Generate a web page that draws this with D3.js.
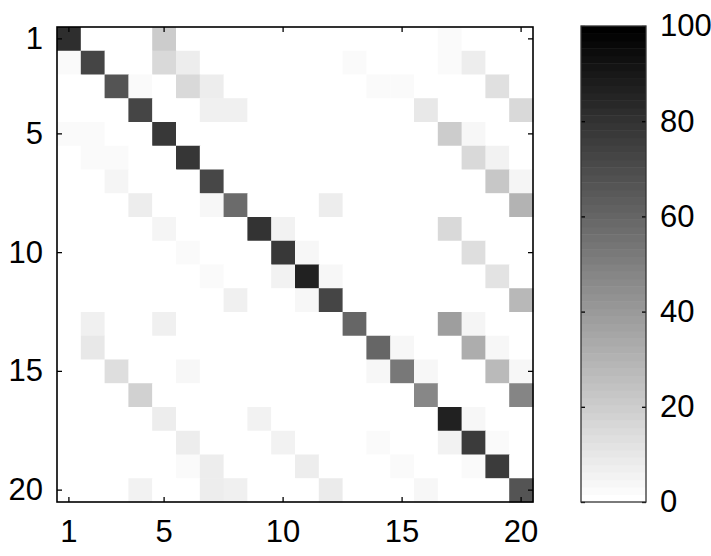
<!DOCTYPE html>
<html>
<head>
<meta charset="utf-8">
<script src="https://cdn.jsdelivr.net/npm/d3@7"></script>
<style>
  body { margin: 0; background: #fff; }
  text { font-family: "Liberation Sans", Arial, sans-serif; }
</style>
</head>
<body>
<svg id="chart" width="711" height="556"></svg>
<script>
// class labels 1..20, rows = true class, columns = predicted class
const classes = d3.range(1, 21);
const axisTicks = [1, 5, 10, 15, 20];
const colorTicks = [0, 20, 40, 60, 80, 100];

// confusion matrix in percent
const confusion = [
  [82, 0, 0, 0,20, 0, 0, 0, 0, 0, 0, 0, 0, 0, 0, 0, 2, 0, 0, 0],
  [ 2,73, 0, 0,15, 7, 0, 0, 0, 0, 0, 0, 2, 0, 0, 0, 2, 7, 0, 0],
  [ 0, 0,67, 2, 0,15, 7, 0, 0, 0, 0, 0, 0, 2, 2, 0, 0, 0,12, 0],
  [ 0, 0, 0,73, 0, 0, 6, 6, 0, 0, 0, 0, 0, 0, 0, 9, 0, 0, 0,15],
  [ 2, 2, 0, 0,78, 0, 0, 0, 0, 0, 0, 0, 0, 0, 0, 0,20, 3, 0, 0],
  [ 0, 2, 2, 0, 0,79, 0, 0, 0, 0, 0, 0, 0, 0, 0, 0, 0,15, 5, 0],
  [ 0, 0, 4, 0, 0, 0,72, 0, 0, 0, 0, 0, 0, 0, 0, 0, 0, 0,22, 4],
  [ 0, 0, 0, 7, 0, 0, 3,58, 0, 0, 0, 7, 0, 0, 0, 0, 0, 0, 0,30],
  [ 0, 0, 0, 0, 4, 0, 0, 0,80, 5, 0, 0, 0, 0, 0, 0,15, 0, 0, 0],
  [ 0, 0, 0, 0, 0, 2, 0, 0, 0,78, 3, 0, 0, 0, 0, 0, 0,13, 0, 0],
  [ 0, 0, 0, 0, 0, 0, 2, 0, 0, 5,87, 3, 0, 0, 0, 0, 0, 0,11, 0],
  [ 0, 0, 0, 0, 0, 0, 0, 6, 0, 0, 3,73, 0, 0, 0, 0, 0, 0, 0,28],
  [ 0, 6, 0, 0, 6, 0, 0, 0, 0, 0, 0, 0,60, 0, 0, 0,38, 4, 0, 0],
  [ 0, 9, 0, 0, 0, 0, 0, 0, 0, 0, 0, 0, 0,60, 3, 0, 0,32, 3, 0],
  [ 0, 0,13, 0, 0, 3, 0, 0, 0, 0, 0, 0, 0, 3,53, 3, 0, 0,27, 3],
  [ 0, 0, 0,18, 0, 0, 0, 0, 0, 0, 0, 0, 0, 0, 0,47, 0, 0, 0,48],
  [ 0, 0, 0, 0, 7, 0, 0, 0, 5, 0, 0, 0, 0, 0, 0, 0,87, 3, 0, 0],
  [ 0, 0, 0, 0, 0, 7, 0, 0, 0, 5, 0, 0, 0, 2, 0, 0, 5,77, 2, 0],
  [ 0, 0, 0, 0, 0, 2, 7, 0, 0, 0, 7, 0, 0, 0, 2, 0, 0, 2,77, 0],
  [ 0, 0, 0, 5, 0, 0, 7, 6, 0, 0, 0, 8, 0, 0, 0, 3, 0, 0, 0,67]
];

const svg = d3.select("#chart");
const plot = { left: 57, top: 27, right: 533, bottom: 502 };
const bar = { left: 581, right: 646, top: 26, bottom: 502 };

const x = d3.scaleBand().domain(classes).range([plot.left, plot.right]);
const y = d3.scaleBand().domain(classes).range([plot.top, plot.bottom]);
const color = d3.scaleLinear().domain([0, 100]).range(["#ffffff", "#000000"]);

// flatten the matrix into cells
const cells = [];
confusion.forEach((row, i) => {
  row.forEach((v, j) => cells.push({ r: classes[i], c: classes[j], v: v }));
});

svg.append("g")
  .selectAll("rect")
  .data(cells)
  .enter().append("rect")
  .attr("x", d => x(d.c))
  .attr("y", d => y(d.r))
  .attr("width", x.bandwidth() + 0.5)
  .attr("height", y.bandwidth() + 0.5)
  .attr("fill", d => color(d.v));

// axes, ticks point inward like matlab
const fontSize = "31px";
function styleAxis(g, showText) {
  g.select(".domain").remove();
  g.selectAll(".tick line").attr("stroke", "#000").attr("stroke-width", 1.3);
  g.selectAll(".tick text").attr("fill", "#000").style("font-size", fontSize);
  if (!showText) g.selectAll(".tick text").remove();
}

svg.append("g")
  .attr("transform", `translate(0,${plot.bottom})`)
  .call(d3.axisBottom(x).tickValues(axisTicks).tickSize(-5).tickPadding(18))
  .call(g => styleAxis(g, true));
svg.append("g")
  .attr("transform", `translate(0,${plot.top})`)
  .call(d3.axisTop(x).tickValues(axisTicks).tickSize(-5))
  .call(g => styleAxis(g, false));
svg.append("g")
  .attr("transform", `translate(${plot.left},0)`)
  .call(d3.axisLeft(y).tickValues(axisTicks).tickSize(-5).tickPadding(14))
  .call(g => styleAxis(g, true));
svg.append("g")
  .attr("transform", `translate(${plot.right},0)`)
  .call(d3.axisRight(y).tickValues(axisTicks).tickSize(-5))
  .call(g => styleAxis(g, false));

svg.append("rect")
  .attr("x", plot.left).attr("y", plot.top)
  .attr("width", plot.right - plot.left).attr("height", plot.bottom - plot.top)
  .attr("fill", "none").attr("stroke", "#000").attr("stroke-width", 1.6);

// colorbar, 64 bands
const cy = d3.scaleLinear().domain([0, 100]).range([bar.bottom, bar.top]);
const levels = d3.range(64);
svg.append("g")
  .selectAll("rect")
  .data(levels)
  .enter().append("rect")
  .attr("x", bar.left)
  .attr("width", bar.right - bar.left)
  .attr("y", d => cy((d + 1) * 100 / 64))
  .attr("height", cy(0) - cy(100 / 64) + 0.5)
  .attr("fill", d => color(d * 100 / 63));

svg.append("g")
  .attr("transform", `translate(${bar.right},0)`)
  .call(d3.axisRight(cy).tickValues(colorTicks).tickSize(-4).tickPadding(14))
  .call(g => styleAxis(g, true));
svg.append("g")
  .attr("transform", `translate(${bar.left},0)`)
  .call(d3.axisLeft(cy).tickValues(colorTicks).tickSize(-4))
  .call(g => styleAxis(g, false));

svg.append("rect")
  .attr("x", bar.left).attr("y", bar.top)
  .attr("width", bar.right - bar.left).attr("height", bar.bottom - bar.top)
  .attr("fill", "none").attr("stroke", "#333").attr("stroke-width", 1.3);
</script>
</body>
</html>
